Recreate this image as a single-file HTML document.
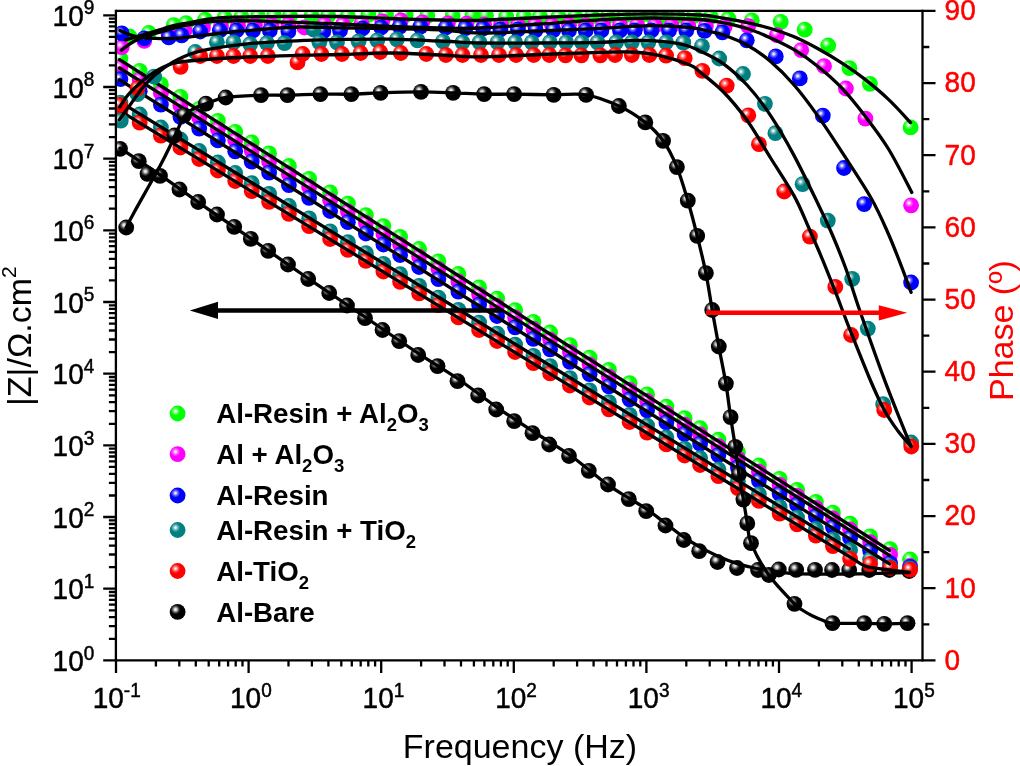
<!DOCTYPE html>
<html lang="en"><head><meta charset="utf-8"><title>Bode plot</title>
<style>html,body{margin:0;padding:0;background:#fff}svg{display:block}text{font-family:"Liberation Sans",sans-serif}</style></head>
<body>
<svg width="1020" height="766" viewBox="0 0 1020 766">
<defs>
<radialGradient id="hl" cx="0.5" cy="0.5" r="0.5"><stop offset="0" stop-color="#fff" stop-opacity="1"/><stop offset="0.18" stop-color="#fff" stop-opacity="0.88"/><stop offset="0.5" stop-color="#fff" stop-opacity="0.42"/><stop offset="1" stop-color="#fff" stop-opacity="0"/></radialGradient>
<radialGradient id="hk" cx="0.5" cy="0.5" r="0.5"><stop offset="0" stop-color="#fff" stop-opacity="1"/><stop offset="0.3" stop-color="#ddd" stop-opacity="0.9"/><stop offset="0.7" stop-color="#888" stop-opacity="0.4"/><stop offset="1" stop-color="#444" stop-opacity="0"/></radialGradient>
<g id="sg"><circle r="7.9" fill="#00ff00"/><circle cx="-2.1" cy="-2.4" r="4.7" fill="url(#hl)"/></g>
<g id="sm"><circle r="7.9" fill="#ff00ff"/><circle cx="-2.1" cy="-2.4" r="4.7" fill="url(#hl)"/></g>
<g id="sb"><circle r="7.9" fill="#0000ff"/><circle cx="-2.1" cy="-2.4" r="4.7" fill="url(#hl)"/></g>
<g id="st"><circle r="7.9" fill="#008080"/><circle cx="-2.1" cy="-2.4" r="4.7" fill="url(#hl)"/></g>
<g id="sr"><circle r="7.9" fill="#ff0000"/><circle cx="-2.1" cy="-2.4" r="4.7" fill="url(#hl)"/></g>
<g id="sk"><circle r="7.9" fill="#000000"/><circle cx="-2.1" cy="-2.4" r="5.2" fill="url(#hk)"/></g>
<clipPath id="cp"><rect x="115.9" y="10.9" width="806.6" height="649.5"/></clipPath>
</defs>
<rect width="1020" height="766" fill="#fff"/>
<g clip-path="url(#cp)">
<g id="imp-points">
<use href="#sk" x="120" y="148.8"/><use href="#sk" x="138.8" y="161.2"/><use href="#sk" x="160" y="175.8"/><use href="#sk" x="179.5" y="189.5"/><use href="#sk" x="198.2" y="202"/><use href="#sk" x="217" y="214.5"/><use href="#sk" x="234.2" y="226.8"/><use href="#sk" x="250.8" y="238.8"/><use href="#sk" x="268.2" y="250.8"/><use href="#sk" x="288" y="264.5"/><use href="#sk" x="308.2" y="279"/><use href="#sk" x="329.2" y="293"/><use href="#sk" x="347" y="305.5"/><use href="#sk" x="365" y="318.2"/><use href="#sk" x="382.5" y="330"/><use href="#sk" x="399.2" y="341.2"/><use href="#sk" x="418.2" y="355"/><use href="#sk" x="437.5" y="366.2"/><use href="#sk" x="457.5" y="381.2"/><use href="#sk" x="478.2" y="395.5"/><use href="#sk" x="496.2" y="409.5"/><use href="#sk" x="514.2" y="421.2"/><use href="#sk" x="532.5" y="433.2"/><use href="#sk" x="549.2" y="444.5"/><use href="#sk" x="569" y="456"/><use href="#sk" x="588.8" y="470.8"/><use href="#sk" x="608" y="484.5"/><use href="#sk" x="628.8" y="499.2"/><use href="#sk" x="646.2" y="511.2"/><use href="#sk" x="665.5" y="525.5"/><use href="#sk" x="683.8" y="540"/><use href="#sk" x="699.2" y="551.2"/><use href="#sk" x="717.5" y="562"/><use href="#sk" x="737" y="568"/><use href="#sk" x="758" y="570"/><use href="#sk" x="778.8" y="569.5"/><use href="#sk" x="796.2" y="569.8"/><use href="#sk" x="815" y="569.8"/><use href="#sk" x="832" y="570"/><use href="#sk" x="849.2" y="570"/><use href="#sk" x="869.2" y="570"/><use href="#sk" x="889.2" y="570"/><use href="#sk" x="909.2" y="571"/>
<use href="#sg" x="120.4" y="58.6"/><use href="#sg" x="139.7" y="70.9"/><use href="#sg" x="160.9" y="84.4"/><use href="#sg" x="180.4" y="96.9"/><use href="#sg" x="199.2" y="108.8"/><use href="#sg" x="217.9" y="120.8"/><use href="#sg" x="235.2" y="131.8"/><use href="#sg" x="251.7" y="142.3"/><use href="#sg" x="269.1" y="153.4"/><use href="#sg" x="288.9" y="166"/><use href="#sg" x="309.1" y="178.9"/><use href="#sg" x="330.1" y="192.3"/><use href="#sg" x="347.9" y="203.6"/><use href="#sg" x="365.9" y="215.1"/><use href="#sg" x="383.4" y="226.2"/><use href="#sg" x="400.1" y="236.9"/><use href="#sg" x="419.1" y="249"/><use href="#sg" x="438.4" y="261.3"/><use href="#sg" x="458.4" y="274"/><use href="#sg" x="479.1" y="287.3"/><use href="#sg" x="497.1" y="298.7"/><use href="#sg" x="515.1" y="310.2"/><use href="#sg" x="533.4" y="321.8"/><use href="#sg" x="550.1" y="332.5"/><use href="#sg" x="569.9" y="345.1"/><use href="#sg" x="589.6" y="357.7"/><use href="#sg" x="608.9" y="369.9"/><use href="#sg" x="629.6" y="383.2"/><use href="#sg" x="647.1" y="394.3"/><use href="#sg" x="666.4" y="406.6"/><use href="#sg" x="684.6" y="418.2"/><use href="#sg" x="700.1" y="428.1"/><use href="#sg" x="718.4" y="439.7"/><use href="#sg" x="737.9" y="452.2"/><use href="#sg" x="758.9" y="465.5"/><use href="#sg" x="779.6" y="478.8"/><use href="#sg" x="797.1" y="489.9"/><use href="#sg" x="815.9" y="501.9"/><use href="#sg" x="832.9" y="512.7"/><use href="#sg" x="850.1" y="523.7"/><use href="#sg" x="870.1" y="536.4"/><use href="#sg" x="890.1" y="549.2"/><use href="#sg" x="910.1" y="559.5"/>
<use href="#sm" x="120.4" y="67.5"/><use href="#sm" x="139.7" y="79.7"/><use href="#sm" x="160.9" y="93.2"/><use href="#sm" x="180.4" y="105.5"/><use href="#sm" x="199.2" y="117.4"/><use href="#sm" x="217.9" y="129.2"/><use href="#sm" x="235.2" y="140.2"/><use href="#sm" x="251.7" y="150.6"/><use href="#sm" x="269.1" y="161.7"/><use href="#sm" x="288.9" y="174.2"/><use href="#sm" x="309.1" y="187"/><use href="#sm" x="330.1" y="200.3"/><use href="#sm" x="347.9" y="211.5"/><use href="#sm" x="365.9" y="222.9"/><use href="#sm" x="383.4" y="234"/><use href="#sm" x="400.1" y="244.6"/><use href="#sm" x="419.1" y="256.6"/><use href="#sm" x="438.4" y="268.8"/><use href="#sm" x="458.4" y="281.5"/><use href="#sm" x="479.1" y="294.6"/><use href="#sm" x="497.1" y="306"/><use href="#sm" x="515.1" y="317.4"/><use href="#sm" x="533.4" y="329"/><use href="#sm" x="550.1" y="339.6"/><use href="#sm" x="569.9" y="352.1"/><use href="#sm" x="589.6" y="364.6"/><use href="#sm" x="608.9" y="376.7"/><use href="#sm" x="629.6" y="389.9"/><use href="#sm" x="647.1" y="401"/><use href="#sm" x="666.4" y="413.1"/><use href="#sm" x="684.6" y="424.7"/><use href="#sm" x="700.1" y="434.5"/><use href="#sm" x="718.4" y="446.1"/><use href="#sm" x="737.9" y="458.4"/><use href="#sm" x="758.9" y="471.7"/><use href="#sm" x="779.6" y="484.8"/><use href="#sm" x="797.1" y="495.9"/><use href="#sm" x="815.9" y="507.8"/><use href="#sm" x="832.9" y="518.5"/><use href="#sm" x="850.1" y="529.5"/><use href="#sm" x="870.1" y="542.1"/><use href="#sm" x="890.1" y="554.8"/><use href="#sm" x="910.1" y="566"/>
<use href="#sb" x="120.4" y="79.1"/><use href="#sb" x="139.7" y="91.2"/><use href="#sb" x="160.9" y="104.6"/><use href="#sb" x="180.4" y="116.8"/><use href="#sb" x="199.2" y="128.6"/><use href="#sb" x="217.9" y="140.4"/><use href="#sb" x="235.2" y="151.3"/><use href="#sb" x="251.7" y="161.6"/><use href="#sb" x="269.1" y="172.7"/><use href="#sb" x="288.9" y="185.1"/><use href="#sb" x="309.1" y="197.8"/><use href="#sb" x="330.1" y="211"/><use href="#sb" x="347.9" y="222.2"/><use href="#sb" x="365.9" y="233.5"/><use href="#sb" x="383.4" y="244.5"/><use href="#sb" x="400.1" y="255"/><use href="#sb" x="419.1" y="267"/><use href="#sb" x="438.4" y="279.1"/><use href="#sb" x="458.4" y="291.7"/><use href="#sb" x="479.1" y="304.7"/><use href="#sb" x="497.1" y="316"/><use href="#sb" x="515.1" y="327.3"/><use href="#sb" x="533.4" y="338.8"/><use href="#sb" x="550.1" y="349.3"/><use href="#sb" x="569.9" y="361.8"/><use href="#sb" x="589.6" y="374.2"/><use href="#sb" x="608.9" y="386.3"/><use href="#sb" x="629.6" y="399.3"/><use href="#sb" x="647.1" y="410.3"/><use href="#sb" x="666.4" y="422.4"/><use href="#sb" x="684.6" y="433.9"/><use href="#sb" x="700.1" y="443.7"/><use href="#sb" x="718.4" y="455.1"/><use href="#sb" x="737.9" y="467.4"/><use href="#sb" x="758.9" y="480.6"/><use href="#sb" x="779.6" y="493.7"/><use href="#sb" x="797.1" y="504.7"/><use href="#sb" x="815.9" y="516.4"/><use href="#sb" x="832.9" y="527.1"/><use href="#sb" x="850.1" y="538"/><use href="#sb" x="870.1" y="550.6"/><use href="#sb" x="890.1" y="563.1"/><use href="#sb" x="910.1" y="567"/>
<use href="#st" x="120.4" y="102.7"/><use href="#st" x="139.7" y="114.5"/><use href="#st" x="160.9" y="127.5"/><use href="#st" x="180.4" y="139.5"/><use href="#st" x="199.2" y="151"/><use href="#st" x="217.9" y="162.5"/><use href="#st" x="235.2" y="173"/><use href="#st" x="251.7" y="183.2"/><use href="#st" x="269.1" y="193.9"/><use href="#st" x="288.9" y="206"/><use href="#st" x="309.1" y="218.4"/><use href="#st" x="330.1" y="231.3"/><use href="#st" x="347.9" y="242.2"/><use href="#st" x="365.9" y="253.2"/><use href="#st" x="383.4" y="263.9"/><use href="#st" x="400.1" y="274.2"/><use href="#st" x="419.1" y="285.8"/><use href="#st" x="438.4" y="297.6"/><use href="#st" x="458.4" y="309.9"/><use href="#st" x="479.1" y="322.6"/><use href="#st" x="497.1" y="333.7"/><use href="#st" x="515.1" y="344.7"/><use href="#st" x="533.4" y="355.9"/><use href="#st" x="550.1" y="366.1"/><use href="#st" x="569.9" y="378.2"/><use href="#st" x="589.6" y="390.4"/><use href="#st" x="608.9" y="402.2"/><use href="#st" x="629.6" y="414.9"/><use href="#st" x="647.1" y="425.6"/><use href="#st" x="666.4" y="437.4"/><use href="#st" x="684.6" y="448.6"/><use href="#st" x="700.1" y="458.1"/><use href="#st" x="718.4" y="469.3"/><use href="#st" x="737.9" y="481.2"/><use href="#st" x="758.9" y="494.1"/><use href="#st" x="779.6" y="506.8"/><use href="#st" x="797.1" y="517.6"/><use href="#st" x="815.9" y="529"/><use href="#st" x="832.9" y="539.5"/><use href="#st" x="850.1" y="550"/><use href="#st" x="870.1" y="559.5"/><use href="#st" x="890.1" y="566.8"/><use href="#st" x="910.1" y="568.5"/>
<use href="#sr" x="120.4" y="110.9"/><use href="#sr" x="139.7" y="122.7"/><use href="#sr" x="160.9" y="135.6"/><use href="#sr" x="180.4" y="147.5"/><use href="#sr" x="199.2" y="159"/><use href="#sr" x="217.9" y="170.5"/><use href="#sr" x="235.2" y="181"/><use href="#sr" x="251.7" y="191.1"/><use href="#sr" x="269.1" y="201.8"/><use href="#sr" x="288.9" y="213.8"/><use href="#sr" x="309.1" y="226.2"/><use href="#sr" x="330.1" y="239"/><use href="#sr" x="347.9" y="249.9"/><use href="#sr" x="365.9" y="260.9"/><use href="#sr" x="383.4" y="271.5"/><use href="#sr" x="400.1" y="281.8"/><use href="#sr" x="419.1" y="293.4"/><use href="#sr" x="438.4" y="305.1"/><use href="#sr" x="458.4" y="317.4"/><use href="#sr" x="479.1" y="330"/><use href="#sr" x="497.1" y="341"/><use href="#sr" x="515.1" y="352"/><use href="#sr" x="533.4" y="363.2"/><use href="#sr" x="550.1" y="373.4"/><use href="#sr" x="569.9" y="385.5"/><use href="#sr" x="589.6" y="397.5"/><use href="#sr" x="608.9" y="409.3"/><use href="#sr" x="629.6" y="422"/><use href="#sr" x="647.1" y="432.6"/><use href="#sr" x="666.4" y="444.4"/><use href="#sr" x="684.6" y="455.5"/><use href="#sr" x="700.1" y="465"/><use href="#sr" x="718.4" y="476.2"/><use href="#sr" x="737.9" y="488.1"/><use href="#sr" x="758.9" y="500.9"/><use href="#sr" x="779.6" y="513.6"/><use href="#sr" x="797.1" y="524.3"/><use href="#sr" x="815.9" y="535.7"/><use href="#sr" x="832.9" y="546.1"/><use href="#sr" x="850.1" y="558.8"/><use href="#sr" x="870.1" y="564"/><use href="#sr" x="890.1" y="567.8"/><use href="#sr" x="910.1" y="569.7"/>
</g>
<g id="imp-fits" fill="none" stroke="#000" stroke-width="3.3" stroke-linecap="round" stroke-linejoin="round">
<path d="M119.9 148.2C126.8 152.8 147.9 166.6 161.1 175.7C174.2 184.8 183.9 192.1 198.8 202.6C213.7 213.1 232.5 225.8 250.8 238.4C269 251.1 289.2 265.4 308.2 278.5C327.3 291.6 346.7 304.5 365 317C383.3 329.5 402.8 343.1 418.2 353.3C433.7 363.6 444.5 369.6 457.5 378.5C470.5 387.4 483.8 398.1 496.2 406.8C508.8 415.6 520.4 423.1 532.5 431C544.6 438.9 559.6 448 569 454.5C578.4 461 582.3 464.7 588.8 469.8C595.2 474.9 601.1 480.2 607.8 484.9C614.5 489.6 622.6 494.2 629 498.2C635.4 502.2 640.3 504.8 646.3 508.9C652.3 513 659 518.4 665.1 523C671.2 527.6 677.5 532.8 683.1 536.7C688.7 540.6 693 543.1 698.8 546.4C704.6 549.7 711.6 553.4 718 556.3C724.4 559.2 730.8 561.6 737.3 563.6C743.8 565.6 750.1 567.1 756.9 568.5C763.7 569.9 770.8 571.1 778 572C785.2 572.9 788 573.5 800 573.8C812 574.1 831.8 574.2 850 574C868.2 573.8 899.4 572.8 909.3 572.5"/>
<path d="M119.6 59.7L889.5 550.4"/>
<path d="M119.6 68L889.5 555.4"/>
<path d="M119.6 79.8L889.5 563.9"/>
<path d="M119.6 101.6L849.2 548.9"/>
<path d="M119.6 110.7L857.5 561.7Q864.5 567 873 567.8L909.3 572.3"/>
</g>
<g id="phase-points">
<use href="#sg" x="129.5" y="36.5"/><use href="#sg" x="148.8" y="33"/><use href="#sg" x="173.8" y="25.2"/><use href="#sg" x="186.1" y="23.2"/><use href="#sg" x="205.2" y="19.6"/><use href="#sg" x="224.7" y="17.3"/><use href="#sg" x="241.4" y="16.8"/><use href="#sg" x="258" y="16.3"/><use href="#sg" x="274" y="16"/><use href="#sg" x="290" y="15.8"/><use href="#sg" x="311.6" y="15.8"/><use href="#sg" x="328.2" y="15.8"/><use href="#sg" x="347.8" y="15.8"/><use href="#sg" x="368.4" y="14.8"/><use href="#sg" x="386.1" y="14.8"/><use href="#sg" x="405.7" y="14.8"/><use href="#sg" x="427.3" y="15.8"/><use href="#sg" x="452.7" y="15.8"/><use href="#sg" x="472.4" y="15.8"/><use href="#sg" x="486" y="15.8"/><use href="#sg" x="506.2" y="16.6"/><use href="#sg" x="523.8" y="16.6"/><use href="#sg" x="540" y="16.6"/><use href="#sg" x="558.6" y="16.6"/><use href="#sg" x="575.3" y="16.6"/><use href="#sg" x="592" y="16.4"/><use href="#sg" x="608" y="16.2"/><use href="#sg" x="624" y="16"/><use href="#sg" x="640" y="15.8"/><use href="#sg" x="652" y="15.8"/><use href="#sg" x="661.8" y="16.3"/><use href="#sg" x="677.5" y="15.8"/><use href="#sg" x="694.1" y="15.8"/><use href="#sg" x="710.8" y="16.8"/><use href="#sg" x="728.4" y="18.6"/><use href="#sg" x="751.8" y="20.3"/><use href="#sg" x="780.7" y="21.9"/><use href="#sg" x="804.7" y="29.7"/><use href="#sg" x="828.2" y="45.5"/><use href="#sg" x="849.4" y="68.1"/><use href="#sg" x="869.9" y="83.8"/><use href="#sg" x="910.6" y="127.4"/>
<use href="#sm" x="121.8" y="47.2"/><use href="#sm" x="144.3" y="40.8"/><use href="#sm" x="168.5" y="33.5"/><use href="#sm" x="184.5" y="30.5"/><use href="#sm" x="203" y="27.8"/><use href="#sm" x="221" y="26"/><use href="#sm" x="238" y="25.3"/><use href="#sm" x="255" y="25"/><use href="#sm" x="271.5" y="24.6"/><use href="#sm" x="288.5" y="24.6"/><use href="#sm" x="304.5" y="27.5"/><use href="#sm" x="324.3" y="24.3"/><use href="#sm" x="342.9" y="24.3"/><use href="#sm" x="361.6" y="23.3"/><use href="#sm" x="382.2" y="21.3"/><use href="#sm" x="400.8" y="20.3"/><use href="#sm" x="422.4" y="22.3"/><use href="#sm" x="447.8" y="23.3"/><use href="#sm" x="466.5" y="23.7"/><use href="#sm" x="484.1" y="24.3"/><use href="#sm" x="501" y="24.9"/><use href="#sm" x="518" y="25.2"/><use href="#sm" x="535" y="25.2"/><use href="#sm" x="552" y="25.2"/><use href="#sm" x="569" y="25.2"/><use href="#sm" x="586" y="25.2"/><use href="#sm" x="603" y="25.2"/><use href="#sm" x="620" y="25.2"/><use href="#sm" x="637" y="25.2"/><use href="#sm" x="654.9" y="25.8"/><use href="#sm" x="671.6" y="25.8"/><use href="#sm" x="688.2" y="25.8"/><use href="#sm" x="705.9" y="26"/><use href="#sm" x="724.7" y="26.4"/><use href="#sm" x="748.2" y="26.2"/><use href="#sm" x="776.9" y="35.1"/><use href="#sm" x="801.2" y="50.2"/><use href="#sm" x="824" y="66.2"/><use href="#sm" x="845.9" y="88.5"/><use href="#sm" x="865.4" y="118.6"/><use href="#sm" x="911.1" y="205.3"/>
<use href="#sb" x="121.8" y="33.4"/><use href="#sb" x="144.3" y="38.3"/><use href="#sb" x="168.8" y="37.4"/><use href="#sb" x="181.6" y="35.4"/><use href="#sb" x="200.2" y="31.5"/><use href="#sb" x="219.8" y="30.5"/><use href="#sb" x="236.5" y="30.5"/><use href="#sb" x="253" y="30.5"/><use href="#sb" x="269.8" y="30.5"/><use href="#sb" x="288.4" y="31.5"/><use href="#sb" x="323.3" y="31.5"/><use href="#sb" x="340" y="30.5"/><use href="#sb" x="362.5" y="28.5"/><use href="#sb" x="381.2" y="27.5"/><use href="#sb" x="399.8" y="26.6"/><use href="#sb" x="420.4" y="26.6"/><use href="#sb" x="445.9" y="27.5"/><use href="#sb" x="465.5" y="28.1"/><use href="#sb" x="483.1" y="28.5"/><use href="#sb" x="500.4" y="29.5"/><use href="#sb" x="518" y="29.5"/><use href="#sb" x="535.7" y="30.1"/><use href="#sb" x="553.3" y="30.1"/><use href="#sb" x="569" y="30.5"/><use href="#sb" x="585.7" y="30.5"/><use href="#sb" x="601.4" y="30.5"/><use href="#sb" x="620" y="30.5"/><use href="#sb" x="634.7" y="30.5"/><use href="#sb" x="651.4" y="30.5"/><use href="#sb" x="669" y="30.5"/><use href="#sb" x="686.3" y="30.5"/><use href="#sb" x="704.6" y="30.9"/><use href="#sb" x="722.4" y="32.3"/><use href="#sb" x="746.8" y="40.3"/><use href="#sb" x="775.8" y="56.4"/><use href="#sb" x="799.8" y="78.4"/><use href="#sb" x="822.8" y="115.7"/><use href="#sb" x="844" y="168"/><use href="#sb" x="864.2" y="204.1"/><use href="#sb" x="911.1" y="282.5"/>
<use href="#st" x="120.8" y="120.7"/><use href="#st" x="137.5" y="94.2"/><use href="#st" x="154.1" y="76.6"/><use href="#st" x="195.3" y="52"/><use href="#st" x="216.9" y="42.3"/><use href="#st" x="233.5" y="42.3"/><use href="#st" x="250.2" y="44.2"/><use href="#st" x="266.9" y="43.2"/><use href="#st" x="284.5" y="43.2"/><use href="#st" x="313.5" y="29.5"/><use href="#st" x="319.4" y="42.3"/><use href="#st" x="337" y="42.3"/><use href="#st" x="358.6" y="41.3"/><use href="#st" x="377.3" y="40.3"/><use href="#st" x="396.9" y="39.3"/><use href="#st" x="417.5" y="40.3"/><use href="#st" x="442.9" y="41.3"/><use href="#st" x="462.5" y="42.3"/><use href="#st" x="479.5" y="42.3"/><use href="#st" x="497.5" y="42.3"/><use href="#st" x="515.1" y="42.3"/><use href="#st" x="531.8" y="42.3"/><use href="#st" x="549.8" y="42.3"/><use href="#st" x="566.1" y="42.3"/><use href="#st" x="581.8" y="42.3"/><use href="#st" x="597.5" y="42.3"/><use href="#st" x="616.1" y="42.3"/><use href="#st" x="631.8" y="42.3"/><use href="#st" x="648.4" y="42.3"/><use href="#st" x="666.1" y="42.3"/><use href="#st" x="683.3" y="42.6"/><use href="#st" x="701.9" y="46.2"/><use href="#st" x="719.2" y="58.5"/><use href="#st" x="743" y="74"/><use href="#st" x="764.9" y="103.8"/><use href="#st" x="775.4" y="133.2"/><use href="#st" x="802.6" y="184.2"/><use href="#st" x="827.8" y="220.6"/><use href="#st" x="852.2" y="278.9"/><use href="#st" x="867.8" y="328.6"/><use href="#st" x="883.1" y="404.1"/><use href="#st" x="911.1" y="442.5"/>
<use href="#sr" x="119.8" y="105"/><use href="#sr" x="137.5" y="88.3"/><use href="#sr" x="180.6" y="66.8"/><use href="#sr" x="200.2" y="56"/><use href="#sr" x="216.9" y="56"/><use href="#sr" x="233.5" y="56"/><use href="#sr" x="250.2" y="56"/><use href="#sr" x="267.8" y="56"/><use href="#sr" x="297.5" y="62.4"/><use href="#sr" x="302.7" y="54"/><use href="#sr" x="321.4" y="54"/><use href="#sr" x="342" y="54"/><use href="#sr" x="360.6" y="53"/><use href="#sr" x="380.2" y="52"/><use href="#sr" x="400.8" y="53"/><use href="#sr" x="426.3" y="54"/><use href="#sr" x="445.9" y="55"/><use href="#sr" x="462.5" y="55"/><use href="#sr" x="481" y="55"/><use href="#sr" x="499" y="55"/><use href="#sr" x="516.1" y="55"/><use href="#sr" x="533.7" y="55"/><use href="#sr" x="549.4" y="55"/><use href="#sr" x="565.5" y="55.3"/><use href="#sr" x="581.4" y="55.3"/><use href="#sr" x="600.4" y="55.3"/><use href="#sr" x="615.1" y="55"/><use href="#sr" x="631.8" y="55"/><use href="#sr" x="649.4" y="55"/><use href="#sr" x="666.1" y="55.6"/><use href="#sr" x="684.7" y="58.2"/><use href="#sr" x="702.4" y="70.8"/><use href="#sr" x="726.7" y="85.6"/><use href="#sr" x="748.3" y="115.3"/><use href="#sr" x="758.9" y="144.2"/><use href="#sr" x="784.2" y="191.5"/><use href="#sr" x="809.9" y="236.6"/><use href="#sr" x="835.3" y="286.9"/><use href="#sr" x="851.1" y="335"/><use href="#sr" x="884.2" y="410"/><use href="#sr" x="911.3" y="446.5"/>
<use href="#sk" x="126.2" y="227.5"/><use href="#sk" x="147.5" y="173.8"/><use href="#sk" x="174.5" y="135.5"/><use href="#sk" x="184.2" y="115.2"/><use href="#sk" x="205.9" y="103.7"/><use href="#sk" x="225.7" y="97.5"/><use href="#sk" x="261" y="95.2"/><use href="#sk" x="287.5" y="95.2"/><use href="#sk" x="320.4" y="94.2"/><use href="#sk" x="351.4" y="94.2"/><use href="#sk" x="380.6" y="92.8"/><use href="#sk" x="421" y="91.9"/><use href="#sk" x="453.1" y="92.8"/><use href="#sk" x="484.1" y="94.2"/><use href="#sk" x="514.1" y="94.2"/><use href="#sk" x="553.7" y="94.8"/><use href="#sk" x="586.1" y="94.8"/><use href="#sk" x="618.9" y="106"/><use href="#sk" x="645.3" y="122.4"/><use href="#sk" x="663.1" y="140.8"/><use href="#sk" x="676.9" y="167.1"/><use href="#sk" x="687.8" y="200.7"/><use href="#sk" x="697.2" y="235.8"/><use href="#sk" x="705.9" y="273.1"/><use href="#sk" x="712.2" y="310"/><use href="#sk" x="718.8" y="346.5"/><use href="#sk" x="725.9" y="383.6"/><use href="#sk" x="730.6" y="417.1"/><use href="#sk" x="735.3" y="446.9"/><use href="#sk" x="739" y="474.2"/><use href="#sk" x="743.4" y="499.6"/><use href="#sk" x="747.3" y="523.4"/><use href="#sk" x="751" y="543.2"/><use href="#sk" x="768.8" y="575"/><use href="#sk" x="794.5" y="603.8"/><use href="#sk" x="832.5" y="623.2"/><use href="#sk" x="864.2" y="623.2"/><use href="#sk" x="884.2" y="623.8"/><use href="#sk" x="907.5" y="623.2"/>
</g>
<g id="phase-fits" fill="none" stroke="#000" stroke-width="3.3" stroke-linecap="round" stroke-linejoin="round">
<path d="M125.3 39.9C129.3 38.8 141.8 35.4 149.2 33.2C156.6 31 163.5 28.2 170 26.5C176.5 24.8 182.1 24 188.4 22.8C194.7 21.6 201.5 20.1 208 19.2C214.5 18.3 213.9 17.8 227.6 17.3C241.3 16.8 271.3 16.4 290 16.3C308.7 16.2 323.3 16.1 340 16.5C356.7 16.9 373.3 17.9 390 18.5C406.7 19.1 425 19.7 440 20C455 20.3 463.3 20.7 480 20.3C496.7 19.9 520 18.4 540 17.5C560 16.6 581.7 15.6 600 15C618.3 14.4 633.3 13.8 650 13.8C666.7 13.8 687.8 14.3 700 15C712.2 15.7 715.7 16.9 723.5 18.2C731.3 19.5 739.1 20.9 747 22.6C754.9 24.3 762.8 26.1 770.6 28.5C778.5 30.9 786.3 33.5 794.1 36.8C801.9 40.1 809.8 44.2 817.6 48.5C825.5 52.8 833.4 57.5 841.2 62.6C849.1 67.7 856.9 73 864.7 79.1C872.5 85.2 880.6 91.8 888.2 99.1C895.9 106.3 906.9 118.7 910.6 122.6"/>
<path d="M121.4 50.2C123.8 48.6 130 43.4 135.6 40.6C141.2 37.8 148.7 35.6 155.2 33.5C161.7 31.4 168.3 29.4 174.8 27.8C181.3 26.2 187.9 25 194.4 23.9C200.9 22.8 204.7 21.9 214 21.4C223.3 20.9 237.3 20.7 250 20.8C262.7 20.9 275 21.7 290 22.2C305 22.7 323.3 23.3 340 24C356.7 24.7 373.3 25.8 390 26.5C406.7 27.2 425 27.8 440 28C455 28.2 463.3 28.7 480 28C496.7 27.3 520 25.4 540 24C560 22.6 581.7 20.9 600 19.9C618.3 18.9 633.3 18.1 650 18C666.7 17.9 687.8 18.7 700 19.5C712.2 20.3 715.7 21.3 723.5 22.8C731.3 24.3 739.1 26 747 28.5C754.9 31 762.8 34.4 770.6 37.9C778.5 41.4 786.3 45 794.1 49.7C801.9 54.4 809.8 59.9 817.6 66.2C825.5 72.5 833.4 79.2 841.2 87.4C849.1 95.6 856.9 105.4 864.7 115.6C872.5 125.8 880.4 135.7 888.2 148.5C896.1 161.3 907.9 185.1 911.8 192.4"/>
<path d="M119.9 30.5C122.5 31.5 129.7 35.1 135.6 36.4C141.5 37.7 148.7 38.1 155.2 38.4C161.7 38.7 168.3 38.7 174.8 38.4C181.3 38.1 187.9 37.1 194.4 36.4C200.9 35.7 206.4 34.9 214 34C221.6 33.1 231.2 32 240 31.2C248.8 30.4 256.9 29.7 266.9 29C276.9 28.3 287.8 27.2 300 27C312.2 26.8 325 27.6 340 27.8C355 28.1 373.3 28.2 390 28.5C406.7 28.8 425 29.1 440 29.8C455 30.6 463.3 32.8 480 33C496.7 33.2 520 31.8 540 31C560 30.2 581.7 29.2 600 28.3C618.3 27.4 635 25.7 650 25.6C665 25.5 680 26.5 690 27.5C700 28.5 704.4 30.2 710 31.5C715.6 32.8 717.3 32.8 723.5 35C729.7 37.2 739.1 40.6 747 45C754.9 49.4 762.8 54.8 770.6 61.5C778.5 68.2 786.3 76 794.1 85C801.9 94 809.8 104.6 817.6 115.6C825.5 126.6 832.3 137.1 841.2 150.9C850.1 164.7 863.4 184.4 871.2 198.2C879 212 883 221.7 888.2 233.5C893.4 245.3 898.6 259 902.4 268.8C906.2 278.6 909.6 288.5 911.1 292.4"/>
<path d="M119.3 119.8C121 117.4 126.7 109.7 129.7 105.5C132.7 101.3 134.9 98 137.5 94.5C140.1 91 142.8 87.5 145.4 84.5C148 81.5 150.6 78.9 153.2 76.5C155.8 74.1 158.5 72.2 161.1 70.2C163.7 68.2 166.4 66.3 168.9 64.7C171.4 63.1 172.8 62.1 176 60.5C179.2 58.9 183.1 56.7 188.4 54.8C193.7 52.9 198.2 51.1 208 49.3C217.8 47.5 231 45.3 247.3 43.8C263.6 42.3 290.6 41.1 306 40.4C321.4 39.7 326 39.7 340 39.5C354 39.3 373.3 39 390 39.2C406.7 39.5 425 40.4 440 41C455 41.6 463.3 42.7 480 43C496.7 43.3 520 43.1 540 43C560 42.9 583.3 42.9 600 42.4C616.7 41.9 626.7 40.1 640 40.3C653.3 40.5 670 42 680 43.8C690 45.6 692.8 47.6 700 50.9C707.2 54.2 715.7 58.1 723.5 63.8C731.3 69.5 739.1 76.4 747 85C754.9 93.6 762.8 103.8 770.6 115.6C778.5 127.4 786.3 141 794.1 155.6C801.9 170.2 811.3 190 817.6 203C823.9 216 827.1 222.5 831.8 233.5C836.5 244.5 841.2 255.9 845.9 268.8C850.6 281.8 853.7 293.1 860 311.2C866.3 329.2 876.8 359.1 883.5 377.1C890.2 395.1 895.4 407.8 900 419.4C904.6 431 909.2 442 911.1 446.5"/>
<path d="M119.8 107C121.4 104.7 124.7 98.4 129.6 93.2C134.5 88 142.7 80.3 149.2 75.6C155.7 70.9 162.3 67.2 168.8 64.8C175.3 62.4 178.6 62.1 188.4 61C198.2 59.9 210.7 58.9 227.6 58C244.5 57.1 271.3 56.2 290 55.6C308.7 55 323.3 54.9 340 54.5C356.7 54.1 373.3 52.9 390 53C406.7 53.1 425 54.4 440 55C455 55.6 463.3 56.9 480 56.8C496.7 56.7 520 55.2 540 54.5C560 53.8 585 52.8 600 52.4C615 52 620 51.5 630 52C640 52.5 650 53.4 660 55.6C670 57.8 683.3 62.3 690 65C696.7 67.7 694.4 67.5 700 72C705.6 76.5 715.7 84 723.5 92C731.3 100 739.1 109.3 747 120.3C754.9 131.3 762.8 145.4 770.6 158C778.5 170.6 787.8 184.5 794.1 195.9C800.4 207.3 803.5 215.9 808.2 226.5C812.9 237.1 817.7 248 822.4 259.4C827.1 270.8 832.2 283.7 836.5 294.7C840.8 305.7 842.7 311.4 848.2 325.3C853.7 339.2 863.4 363.8 869.4 378C875.4 392.2 879.7 401.7 884.5 410.5C889.3 419.3 893.6 425 898 431C902.4 437 908.9 443.9 911.1 446.5"/>
<path d="M126.2 227.5C127.6 224.8 129 221.8 134.6 211.5C140.2 201.2 153.7 177.8 160 166C166.3 154.2 168.5 149.2 172.5 141C176.5 132.8 180.6 121.9 184.2 116.5C187.8 111.1 190.4 110.6 194 108.5C197.6 106.4 200.6 105.5 205.9 103.7C211.2 101.9 216.5 98.9 225.7 97.5C234.9 96.1 250.7 95.6 261 95.2C271.3 94.8 277.6 95.4 287.5 95.2C297.4 95 309.8 94.4 320.4 94.2C331 94 341.4 94.4 351.4 94.2C361.4 94 369 93.2 380.6 92.8C392.2 92.4 408.9 91.9 421 91.9C433.1 91.9 442.6 92.4 453.1 92.8C463.6 93.2 473.9 94 484.1 94.2C494.3 94.4 502.5 94.1 514.1 94.2C525.7 94.3 541.7 94.7 553.7 94.8C565.7 94.9 575.2 92.9 586.1 94.8C597 96.7 609 101.4 618.9 106C628.8 110.6 637.9 116.6 645.3 122.4C652.7 128.2 657.8 133.4 663.1 140.8C668.4 148.2 672.8 157.1 676.9 167.1C681 177.1 684.4 189.2 687.8 200.7C691.2 212.1 694.2 223.7 697.2 235.8C700.2 247.9 703.4 260.7 705.9 273.1C708.4 285.5 710.1 297.8 712.2 310C714.4 322.2 716.5 334.2 718.8 346.5C721.1 358.8 723.9 371.8 725.9 383.6C727.9 395.4 729 406.6 730.6 417.1C732.2 427.7 733.9 437.4 735.3 446.9C736.7 456.4 737.6 465.4 739 474.2C740.4 483 742 491.4 743.4 499.6C744.8 507.8 746 516.1 747.3 523.4C748.6 530.7 747.4 534.6 751 543.2C754.6 551.8 761.5 564.9 768.8 575C776 585.1 788.8 597.8 794.5 603.8C800.2 609.7 800 608.5 803 610.5C806 612.5 808.9 614.1 812.2 615.7C815.5 617.3 819.3 619 822.7 620.3C826.1 621.6 825.6 622.8 832.5 623.2C839.4 623.7 855.6 623.2 864.2 623.2C872.9 623.3 877 623.8 884.2 623.8C891.5 623.8 903.6 623.3 907.5 623.2"/>
</g>
</g>
<g id="arrows">
<path d="M216 310.5H501.5" stroke="#000" stroke-width="4.3" fill="none"/><path d="M189.8 310.4L218 301.8V319Z" fill="#000"/>
<path d="M706 312.8H881" stroke="#f00" stroke-width="4.4" fill="none"/><path d="M907.2 312.8L878.8 305.2V320.4Z" fill="#f00"/>
</g>
<g id="axes" stroke="#000" stroke-width="2.3" fill="none" stroke-linecap="butt">
<path d="M115.9 9.8V661.5"/><path d="M922.5 9.8V661.5"/><path d="M115.9 10.9H935.5"/><path d="M103.2 660.4H935.5"/>
<path d="M108.9 638.8H115.9M108.9 626.2H115.9M108.9 617.2H115.9M108.9 610.3H115.9M108.9 604.6H115.9M108.9 599.8H115.9M108.9 595.7H115.9M108.9 592H115.9M103.2 588.7H115.9M108.9 567.1H115.9M108.9 554.5H115.9M108.9 545.6H115.9M108.9 538.6H115.9M108.9 532.9H115.9M108.9 528.1H115.9M108.9 524H115.9M108.9 520.3H115.9M103.2 517H115.9M108.9 495.5H115.9M108.9 482.8H115.9M108.9 473.9H115.9M108.9 466.9H115.9M108.9 461.3H115.9M108.9 456.5H115.9M108.9 452.3H115.9M108.9 448.6H115.9M103.2 445.4H115.9M108.9 423.8H115.9M108.9 411.2H115.9M108.9 402.2H115.9M108.9 395.3H115.9M108.9 389.6H115.9M108.9 384.8H115.9M108.9 380.6H115.9M108.9 377H115.9M103.2 373.7H115.9M108.9 352.1H115.9M108.9 339.5H115.9M108.9 330.5H115.9M108.9 323.6H115.9M108.9 317.9H115.9M108.9 313.1H115.9M108.9 308.9H115.9M108.9 305.3H115.9M103.2 302H115.9M108.9 280.4H115.9M108.9 267.8H115.9M108.9 258.8H115.9M108.9 251.9H115.9M108.9 246.2H115.9M108.9 241.4H115.9M108.9 237.3H115.9M108.9 233.6H115.9M103.2 230.3H115.9M108.9 208.7H115.9M108.9 196.1H115.9M108.9 187.2H115.9M108.9 180.2H115.9M108.9 174.5H115.9M108.9 169.7H115.9M108.9 165.6H115.9M108.9 161.9H115.9M103.2 158.6H115.9M108.9 137.1H115.9M108.9 124.4H115.9M108.9 115.5H115.9M108.9 108.5H115.9M108.9 102.9H115.9M108.9 98.1H115.9M108.9 93.9H115.9M108.9 90.2H115.9M103.2 87H115.9M108.9 65.4H115.9M108.9 52.8H115.9M108.9 43.8H115.9M108.9 36.9H115.9M108.9 31.2H115.9M108.9 26.4H115.9M108.9 22.2H115.9M108.9 18.6H115.9M103.2 15.3H115.9"/>
<path d="M116 660.4V672.9M155.9 660.4V666.6M179.3 660.4V666.6M195.8 660.4V666.6M208.7 660.4V666.6M219.2 660.4V666.6M228.1 660.4V666.6M235.7 660.4V666.6M242.5 660.4V666.6M248.6 660.4V672.9M288.5 660.4V666.6M311.9 660.4V666.6M328.4 660.4V666.6M341.3 660.4V666.6M351.8 660.4V666.6M360.7 660.4V666.6M368.3 660.4V666.6M375.1 660.4V666.6M381.2 660.4V672.9M421.1 660.4V666.6M444.5 660.4V666.6M461 660.4V666.6M473.9 660.4V666.6M484.4 660.4V666.6M493.3 660.4V666.6M500.9 660.4V666.6M507.7 660.4V666.6M513.8 660.4V672.9M553.7 660.4V666.6M577.1 660.4V666.6M593.6 660.4V666.6M606.5 660.4V666.6M617 660.4V666.6M625.9 660.4V666.6M633.5 660.4V666.6M640.3 660.4V666.6M646.4 660.4V672.9M686.3 660.4V666.6M709.7 660.4V666.6M726.2 660.4V666.6M739.1 660.4V666.6M749.6 660.4V666.6M758.5 660.4V666.6M766.1 660.4V666.6M772.9 660.4V666.6M779 660.4V672.9M818.9 660.4V666.6M842.3 660.4V666.6M858.8 660.4V666.6M871.7 660.4V666.6M882.2 660.4V666.6M891.1 660.4V666.6M898.7 660.4V666.6M905.5 660.4V666.6M911.6 660.4V672.9"/>
<path d="M922.5 624.3H929.3M922.5 588.2H935.5M922.5 552.1H929.3M922.5 516.1H935.5M922.5 480H929.3M922.5 443.9H935.5M922.5 407.8H929.3M922.5 371.7H935.5M922.5 335.6H929.3M922.5 299.6H935.5M922.5 263.5H929.3M922.5 227.4H935.5M922.5 191.3H929.3M922.5 155.2H935.5M922.5 119.1H929.3M922.5 83.1H935.5M922.5 47H929.3"/>
</g>
<g id="left-labels" font-size="28" fill="#000" stroke="#000" stroke-width="0.45">
<text transform="translate(52.6 670.9) scale(1 1.03)">10<tspan font-size="19" dy="-11">0</tspan></text><text transform="translate(52.6 599.2) scale(1 1.03)">10<tspan font-size="19" dy="-11">1</tspan></text><text transform="translate(52.6 527.5) scale(1 1.03)">10<tspan font-size="19" dy="-11">2</tspan></text><text transform="translate(52.6 455.9) scale(1 1.03)">10<tspan font-size="19" dy="-11">3</tspan></text><text transform="translate(52.6 384.2) scale(1 1.03)">10<tspan font-size="19" dy="-11">4</tspan></text><text transform="translate(52.6 312.5) scale(1 1.03)">10<tspan font-size="19" dy="-11">5</tspan></text><text transform="translate(52.6 240.8) scale(1 1.03)">10<tspan font-size="19" dy="-11">6</tspan></text><text transform="translate(52.6 169.1) scale(1 1.03)">10<tspan font-size="19" dy="-11">7</tspan></text><text transform="translate(52.6 97.5) scale(1 1.03)">10<tspan font-size="19" dy="-11">8</tspan></text><text transform="translate(52.6 25.8) scale(1 1.03)">10<tspan font-size="19" dy="-11">9</tspan></text>
</g>
<g id="bottom-labels" font-size="28" fill="#000" stroke="#000" stroke-width="0.45">
<text transform="translate(92.7 708.1) scale(1 1.03)">10<tspan font-size="19" dy="-11.1">-1</tspan></text><text transform="translate(230 708.1) scale(1 1.03)">10<tspan font-size="19" dy="-11.1">0</tspan></text><text transform="translate(362.6 708.1) scale(1 1.03)">10<tspan font-size="19" dy="-11.1">1</tspan></text><text transform="translate(495.2 708.1) scale(1 1.03)">10<tspan font-size="19" dy="-11.1">2</tspan></text><text transform="translate(627.8 708.1) scale(1 1.03)">10<tspan font-size="19" dy="-11.1">3</tspan></text><text transform="translate(760.4 708.1) scale(1 1.03)">10<tspan font-size="19" dy="-11.1">4</tspan></text><text transform="translate(893 708.1) scale(1 1.03)">10<tspan font-size="19" dy="-11.1">5</tspan></text>
</g>
<g id="right-labels" font-size="28" fill="#ff0000" stroke="#ff0000" stroke-width="0.45">
<text transform="translate(944.6 669.7) scale(1 1.03)">0</text><text transform="translate(944.6 597.5) scale(1 1.03)">10</text><text transform="translate(944.6 525.4) scale(1 1.03)">20</text><text transform="translate(944.6 453.2) scale(1 1.03)">30</text><text transform="translate(944.6 381) scale(1 1.03)">40</text><text transform="translate(944.6 308.9) scale(1 1.03)">50</text><text transform="translate(944.6 236.7) scale(1 1.03)">60</text><text transform="translate(944.6 164.5) scale(1 1.03)">70</text><text transform="translate(944.6 92.4) scale(1 1.03)">80</text><text transform="translate(944.6 20.2) scale(1 1.03)">90</text>
</g>
<text x="402.8" y="758.1" font-size="34" fill="#000">Frequency (Hz)</text>
<text transform="translate(30.8 406) rotate(-90)" font-size="34" fill="#000">|Z|/Ω.cm<tspan font-size="21" dy="-15">2</tspan></text>
<text transform="translate(1012.7 401) rotate(-90)" font-size="34" fill="#ff0000">Phase (º)</text>
<g id="legend" font-size="27.7" font-weight="bold" fill="#000">
<use href="#sg" x="177.6" y="413.5"/><text x="216.2" y="423.1">Al-Resin + Al<tspan font-size="18.5" dy="7.9">2</tspan><tspan dy="-7.9">O</tspan><tspan font-size="18.5" dy="7.9">3</tspan></text>
<use href="#sm" x="177.6" y="454.2"/><text x="216.2" y="463.8">Al + Al<tspan font-size="18.5" dy="7.9">2</tspan><tspan dy="-7.9">O</tspan><tspan font-size="18.5" dy="7.9">3</tspan></text>
<use href="#sb" x="177.6" y="495.5"/><text x="216.2" y="505.1">Al-Resin</text>
<use href="#st" x="177.6" y="530"/><text x="216.2" y="539.6">Al-Resin + TiO<tspan font-size="18.5" dy="7.9">2</tspan></text>
<use href="#sr" x="177.6" y="571"/><text x="216.2" y="580.6">Al-TiO<tspan font-size="18.5" dy="7.9">2</tspan></text>
<use href="#sk" x="177.6" y="611.9"/><text x="216.2" y="621.5">Al-Bare</text>
</g>
</svg>
</body></html>
